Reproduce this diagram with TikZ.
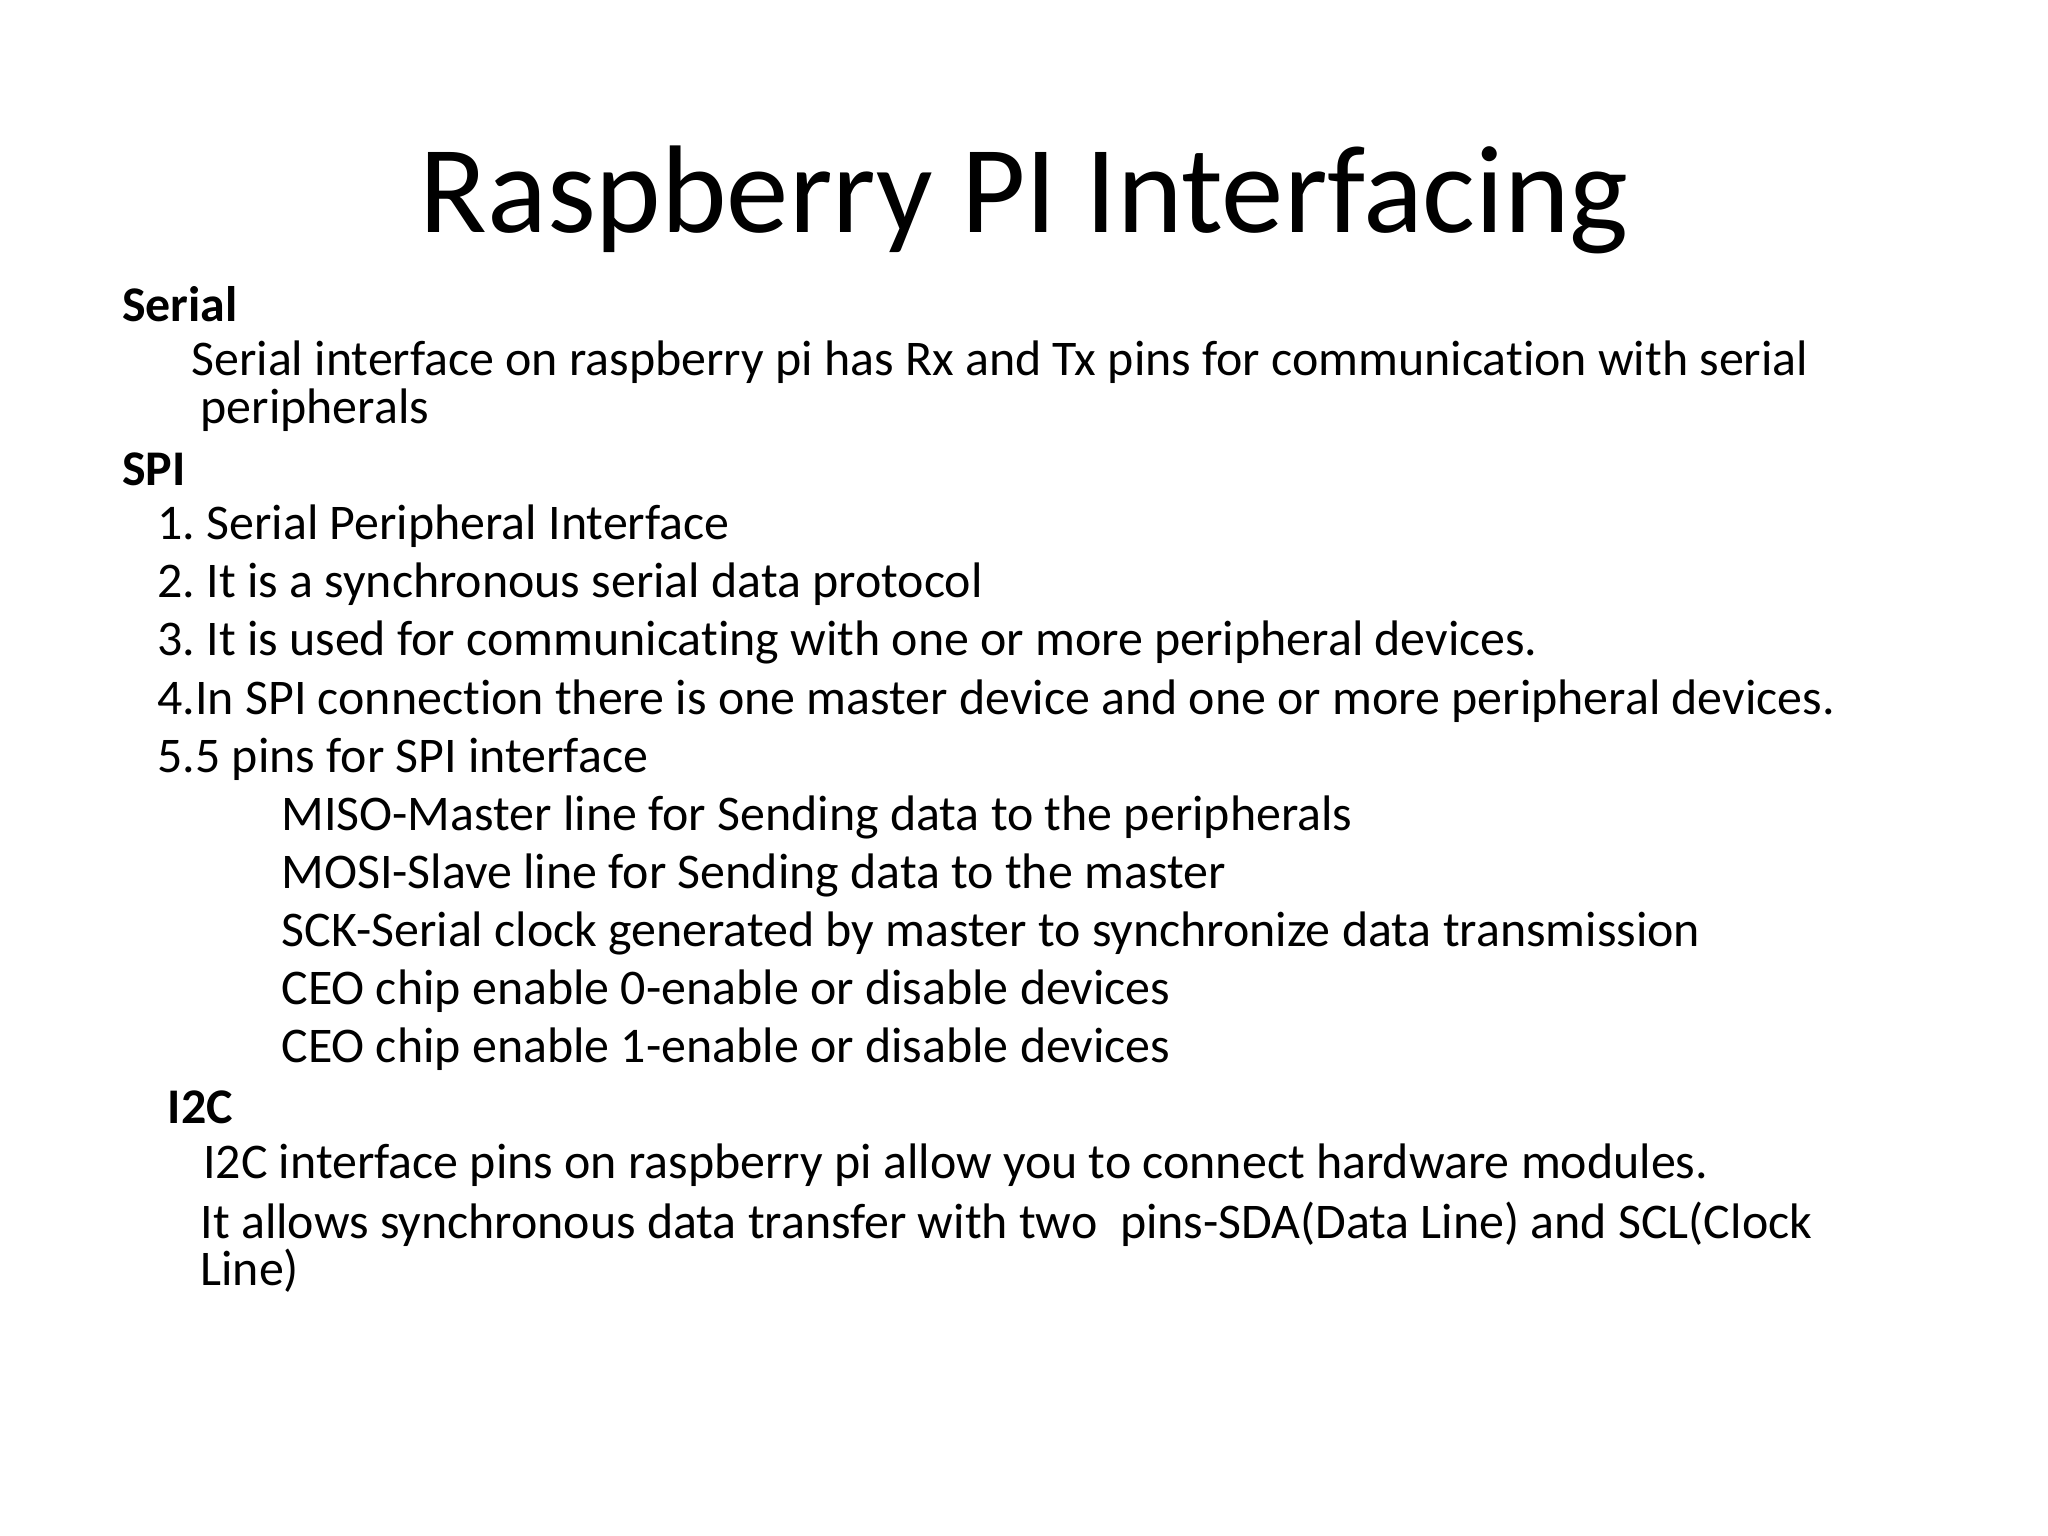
\documentclass[tikz,border=0pt]{standalone}
\usepackage{fontspec}
\setmainfont[Ligatures=NoCommon]{Carlito}
\begin{document}
\frenchspacing
\begin{tikzpicture}[x=0.013061cm,y=-0.013061cm,
  body/.style={anchor=west,inner sep=0pt,font=\fontsize{14.2pt}{17pt}\selectfont},
  head/.style={body,font=\fontsize{14.2pt}{17pt}\selectfont\bfseries}]
\useasboundingbox (0,0) rectangle (1568,1176);
\fill[white] (0,0) rectangle (1568,1176);
\node[inner sep=0pt,font=\fontsize{35.5pt}{42pt}\selectfont] (title) at (784,153) {Raspberry PI Interfacing};
\node[head] (h1) at (93,233) {Serial};
\node[body] (s1) at (146,277) {Serial interface on raspberry pi has Rx and Tx pins for communication with serial};
\node[body] (s2) at (153,314) {peripherals};
\node[head] (h2) at (93,359) {SPI};
\node[body] (p1) at (120,403) {1. Serial Peripheral Interface};
\node[body] (p2) at (120,447) {2. It is a synchronous serial data protocol};
\node[body] (p3) at (120,492) {3. It is used for communicating with one or more peripheral devices.};
\node[body] (p4) at (120,537) {4.In SPI connection there is one master device and one or more peripheral devices.};
\node[body] (p5) at (120,581) {5.5 pins for SPI interface};
\node[body] (q1) at (215,626) {MISO-Master line for Sending data to the peripherals};
\node[body] (q2) at (215,670) {MOSI-Slave line for Sending data to the master};
\node[body] (q3) at (215,715) {SCK-Serial clock generated by master to synchronize data transmission};
\node[body] (q4) at (215,759) {CEO chip enable 0-enable or disable devices};
\node[body] (q5) at (215,803) {CEO chip enable 1-enable or disable devices};
\node[head] (h3) at (128,848) {I2C};
\node[body] (i1) at (155,892) {I2C interface pins on raspberry pi allow you to connect hardware modules.};
\node[body] (i2) at (153,937) {It allows synchronous data transfer with two\ \ pins-SDA(Data Line) and SCL(Clock};
\node[body] (i3) at (153,973) {Line)};
\end{tikzpicture}
\end{document}
